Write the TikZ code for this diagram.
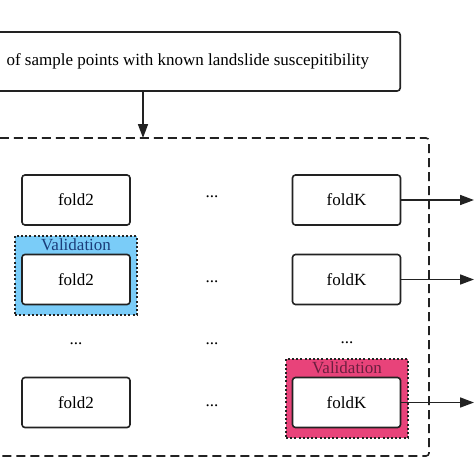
\documentclass[tikz,border=0pt]{standalone}
\usepackage{fontspec}
\setmainfont{Liberation Serif}
\usetikzlibrary{arrows.meta}

\definecolor{valblue}{HTML}{7ACCF8}
\definecolor{valred}{HTML}{E8437A}
\definecolor{valbluetext}{HTML}{1B3D7A}
\definecolor{valredtext}{HTML}{6B1F3F}
\definecolor{linegray}{HTML}{222222}

\tikzset{
  foldbox/.style={draw=linegray, line width=1.6pt, rounded corners=3pt, fill=white,
    minimum width=108pt, minimum height=50pt, inner sep=0pt},
  valbox/.style={draw=linegray, line width=2.2pt, dash pattern=on 2pt off 2.2pt,
    minimum width=122pt, minimum height=79pt, inner sep=0pt},
  valtext/.style={anchor=base, inner sep=0pt},
  dotsnode/.style={inner sep=0pt},
  flow/.style={-{Triangle[length=14pt,width=10pt]}, line width=1.6pt, draw=linegray},
}

\begin{document}
\begin{tikzpicture}[x=1pt, y=-1pt, font=\fontsize{17}{20}\selectfont]
        \useasboundingbox[fill=white] (0,0) rectangle (474,474);
        \clip (0,0) rectangle (474,474);

        % sample set
        \node[draw=linegray, line width=1.6pt, rounded corners=3pt, anchor=east,
              minimum height=59pt, inner xsep=31pt, inner ysep=0pt] (samples) at (401,61.5)
              {\hspace*{40pt}of sample points with known landslide suscepitibility};

        % cross-validation frame
        \draw[linegray, line width=1.6pt, dash pattern=on 9pt off 5pt, rounded corners=3pt]
              (-20,138) rectangle (429,456);
        \coordinate (entry) at (143,138);
        \draw[flow] (samples.south -| entry) -- (entry);

        % validation backgrounds
        \node[valbox, fill=valblue] (valA) at (76,275.5) {};
        \node[valtext, text=valbluetext] at ([yshift=-16pt]valA.north) {Validation};
        \node[valbox, fill=valred] (valB) at (347,398.5) {};
        \node[valtext, text=valredtext] at ([yshift=-16pt]valB.north) {Validation};

        % folds
        \node[foldbox] (a1) at (76,200) {fold2};
        \node[foldbox] (a2) at (76,279.5) {fold2};
        \node[foldbox] (a4) at (76,402.5) {fold2};
        \node[foldbox] (k1) at (346.5,200) {foldK};
        \node[foldbox] (k2) at (346.5,279.5) {foldK};
        \node[foldbox] (k4) at (346.5,402.5) {foldK};

        % dots
        \node[dotsnode] (d1) at (212,197) {...};
        \node[dotsnode] (d2) at (212,282) {...};
        \node[dotsnode] (d3) at (212,344) {...};
        \node[dotsnode] (d4) at (212,406) {...};
        \node[dotsnode] (e3) at (76,344) {...};
        \node[dotsnode] (f3) at (347,343) {...};

        % outputs
        \coordinate (out1) at (474,200);
        \coordinate (out2) at (474,280);
        \coordinate (out4) at (474,402);
        \draw[flow] (k1.east) -- (out1 |- k1.east);
        \draw[flow] (k2.east) -- (out2 |- k2.east);
        \draw[flow] (k4.east) -- (out4 |- k4.east);
        \end{tikzpicture}
\end{document}
